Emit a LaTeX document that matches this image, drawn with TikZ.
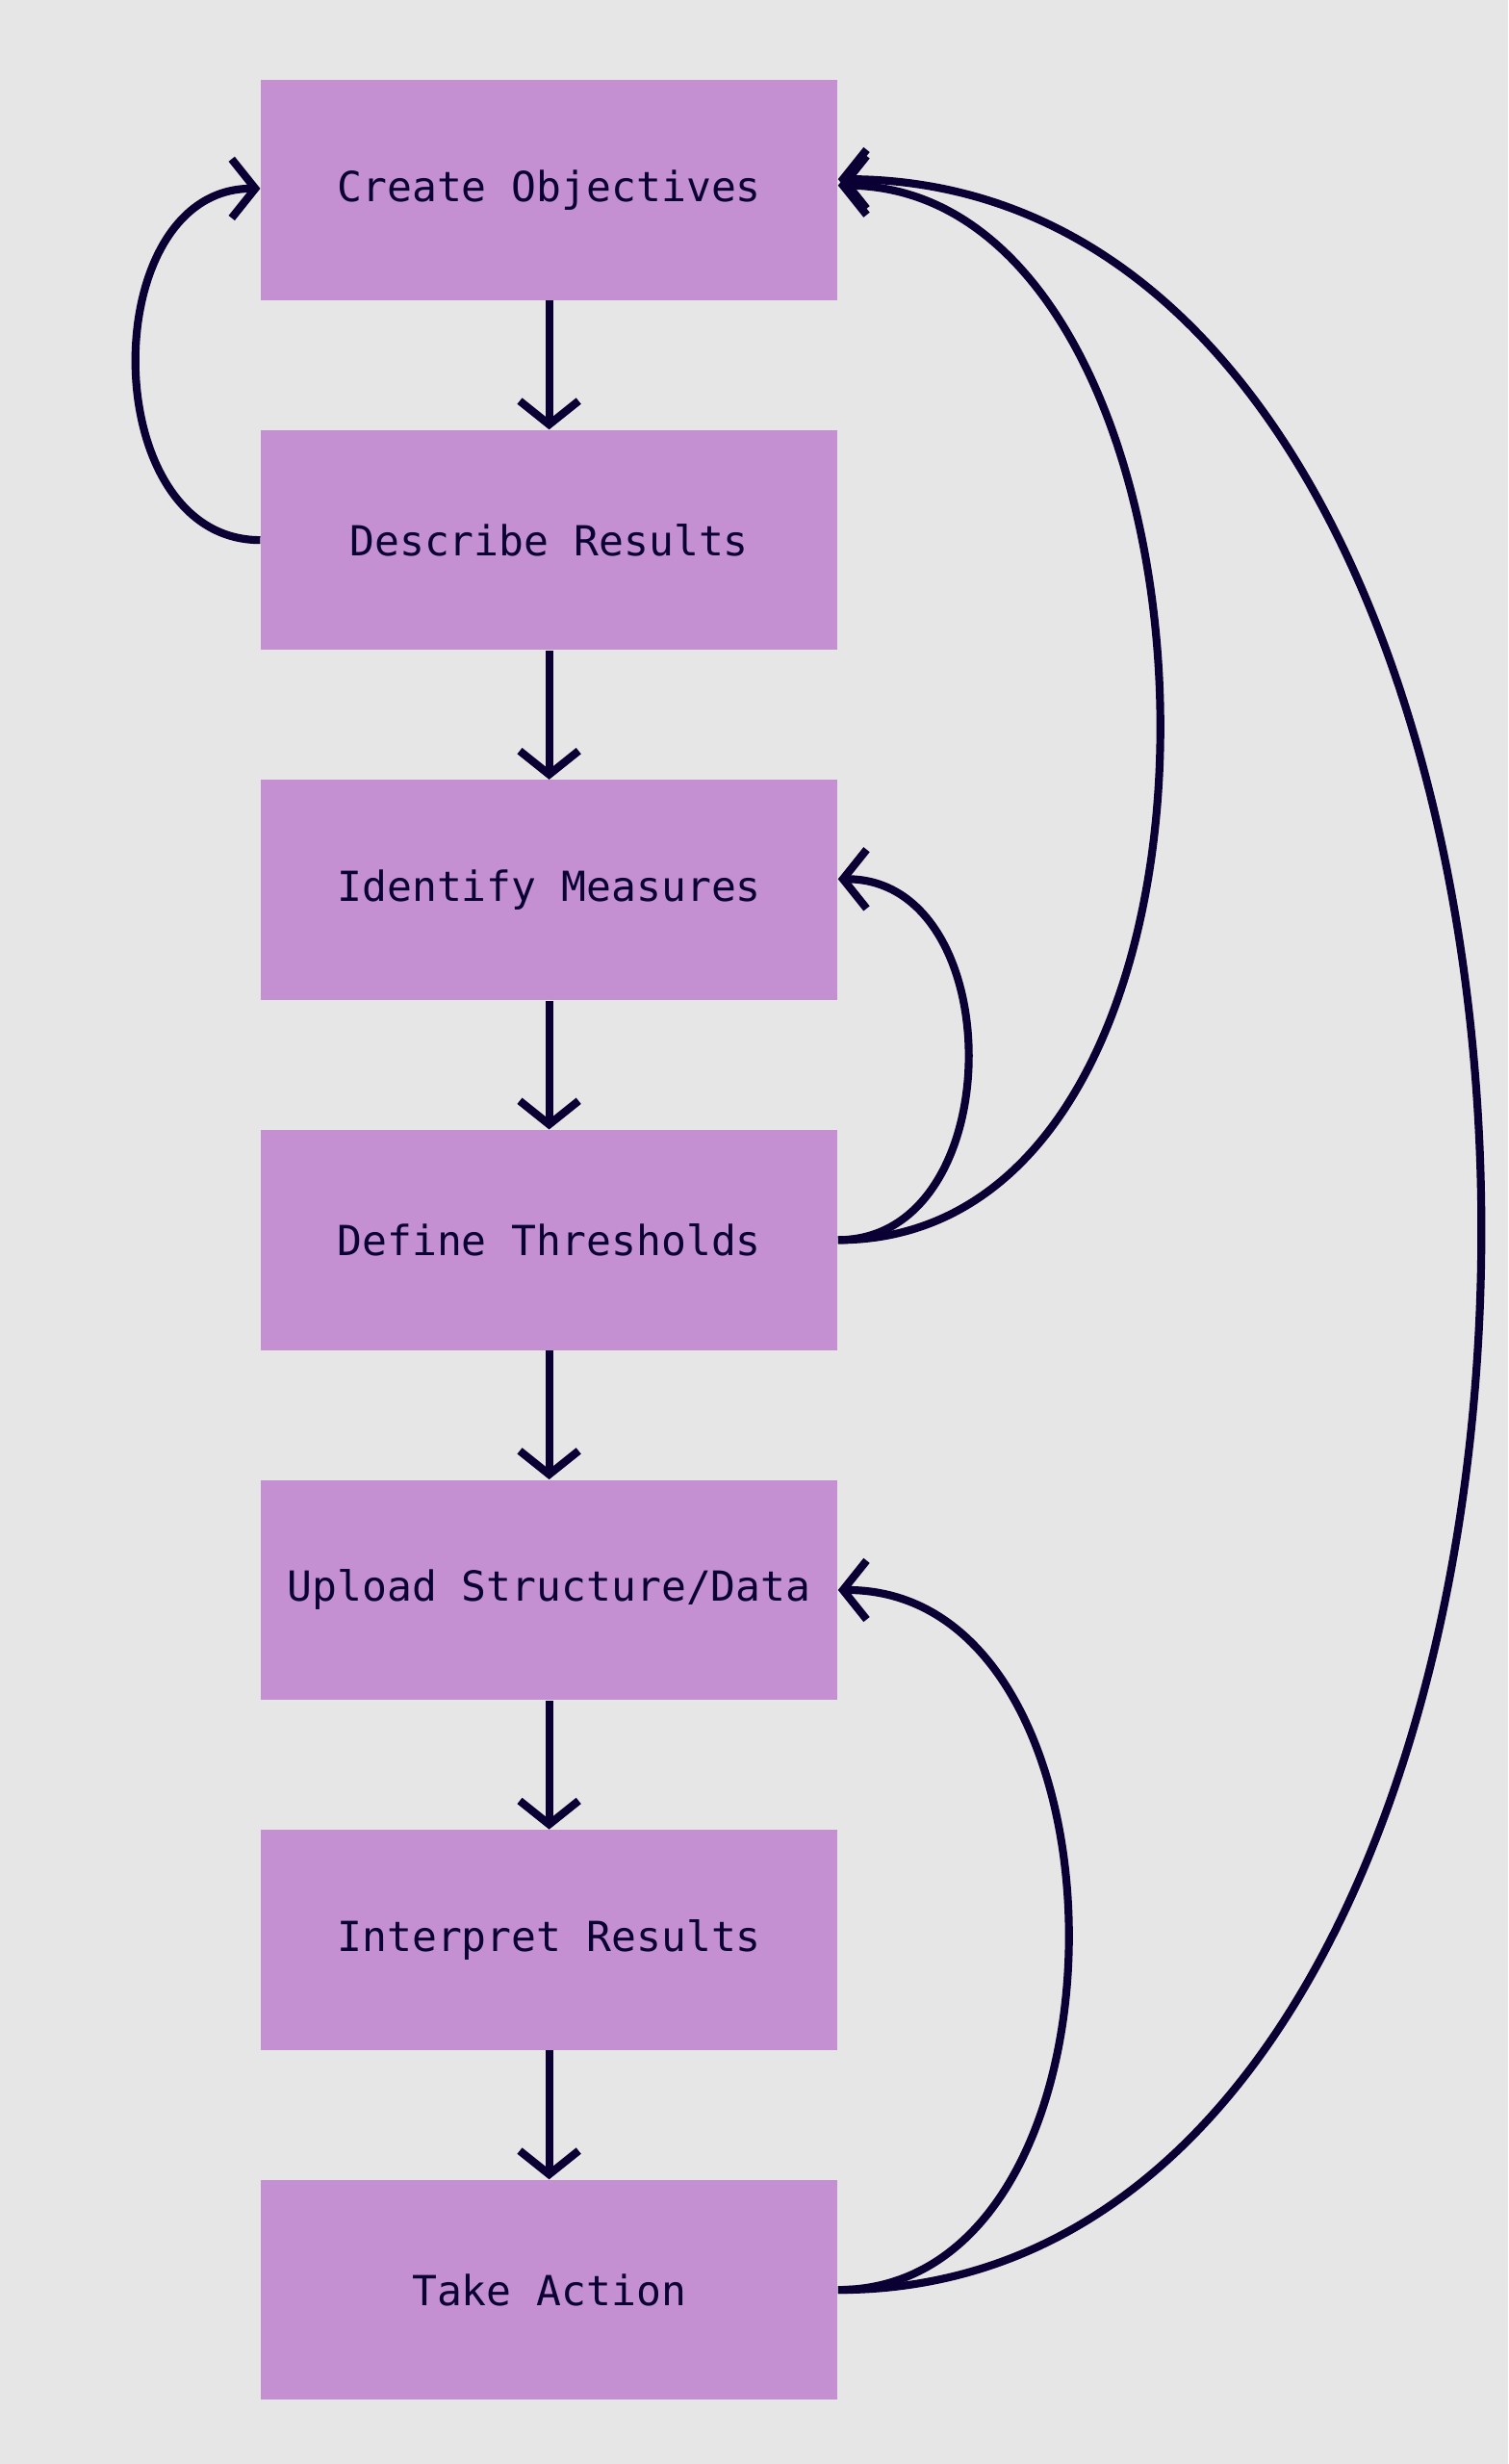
\documentclass[tikz,border=0pt]{standalone}
\usepackage{fontspec}
\setmonofont{DejaVu Sans Mono}
\usetikzlibrary{positioning,arrows.meta}
\definecolor{bgc}{HTML}{E6E6E6}
\definecolor{boxc}{HTML}{C490D1}
\definecolor{inkc}{HTML}{0A0033}
\begin{document}
\begin{tikzpicture}[node distance=1.64cm,
	stage/.style={shape=rectangle,fill=boxc,minimum width=7.34cm,minimum height=2.8cm,inner sep=0pt,text=inkc,font=\ttfamily\fontsize{15}{18}\selectfont},
	flow/.style={draw=inkc,line width=0.1cm,-{Straight Barb[length=0.3cm,width=0.75cm,line width=0.1cm]}}]
	\useasboundingbox[fill=bgc] (0,0) rectangle (19.2,-31.36);

	\node[stage] (co) at (6.99,-2.42) {Create Objectives};
	\node[stage,below=of co] (dr) {Describe Results};
	\node[stage,below=of dr] (im) {Identify Measures};
	\node[stage,below=of im] (dt) {Define Thresholds};
	\node[stage,below=of dt] (us) {Upload Structure/Data};
	\node[stage,below=of us] (ir) {Interpret Results};
	\node[stage,below=of ir] (ta) {Take Action};

	\path[flow] (co) -- (dr);
	\path[flow] (dr) -- (im);
	\path[flow] (im) -- (dt);
	\path[flow] (dt) -- (us);
	\path[flow] (us) -- (ir);
	\path[flow] (ir) -- (ta);

	\path[flow] (dr.west) .. controls +(-2.1,0) and +(-2.1,0) .. ([yshift=0.02cm]co.west);
	\path[flow] (dt.east) .. controls +(2.2,0) and +(2.2,0) .. ([yshift=0.14cm]im.east);
	\path[flow] (dt.east) .. controls +(5.7,0) and +(5.2,0) .. ([yshift=0.06cm]co.east);
	\path[flow] (ta.east) .. controls +(3.9,0) and +(3.9,0) .. (us.east);
	\path[flow] (ta.east) .. controls +(10.9,0) and +(10.9,0) .. ([yshift=0.14cm]co.east);
\end{tikzpicture}
\end{document}
